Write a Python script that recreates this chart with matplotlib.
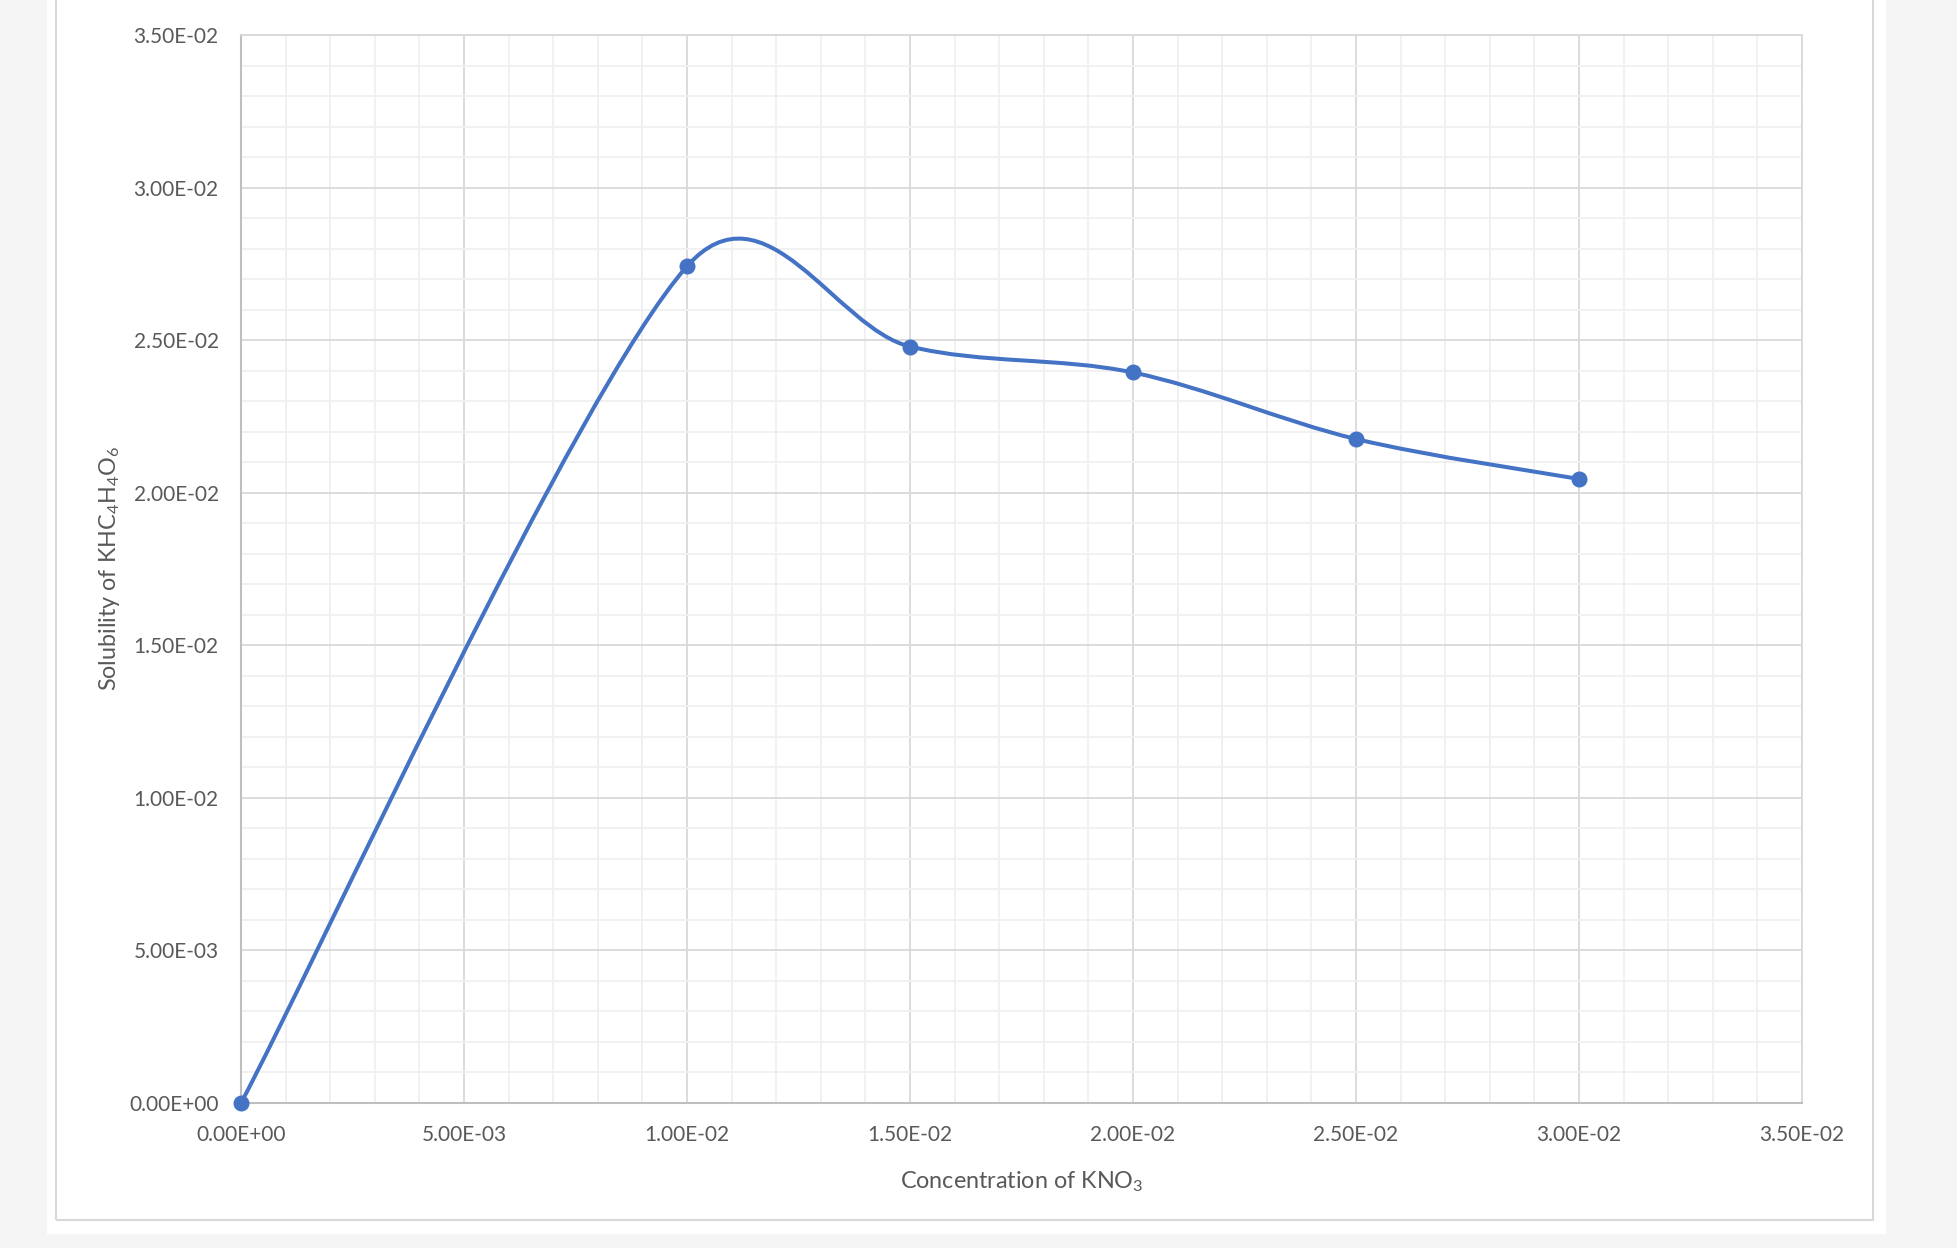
import numpy as np
import matplotlib
matplotlib.use("Agg")
import matplotlib.pyplot as plt
from matplotlib.path import Path
from matplotlib.patches import PathPatch, Rectangle
from matplotlib.ticker import MultipleLocator, FuncFormatter

# ---- data ----
conc_kno3 = [0.0, 0.010, 0.015, 0.020, 0.025, 0.030]
solubility = [0.0, 0.02742, 0.02479, 0.02394, 0.02176, 0.02045]
x_ticks = [0.0, 0.005, 0.010, 0.015, 0.020, 0.025, 0.030, 0.035]
y_ticks = [0.0, 0.005, 0.010, 0.015, 0.020, 0.025, 0.030, 0.035]
x_title = "Concentration of KNO$\\mathregular{_3}$"
y_title = "Solubility of KHC$\\mathregular{_4}$H$\\mathregular{_4}$O$\\mathregular{_6}$"

plt.rcParams['font.family'] = ['Lato', 'DejaVu Sans']
plt.rcParams['mathtext.fontset'] = 'custom'
plt.rcParams['mathtext.rm'] = 'Lato'
plt.rcParams['mathtext.it'] = 'Lato'
plt.rcParams['mathtext.bf'] = 'Lato'

W, H = 1958, 1248
fig = plt.figure(figsize=(W / 100, H / 100), dpi=100)
fig.patch.set_facecolor('#f5f5f5')

# white chart area and its border
fig.patches.append(Rectangle((47 / W, 1 - 1234 / H), (1886 - 47) / W, 1234 / H + 0.01,
                             transform=fig.transFigure, facecolor='white', edgecolor='none', zorder=-3))
fig.patches.append(Rectangle((56 / W, 1 - 1220 / H), (1873 - 56) / W, 1220 / H + 0.05,
                             transform=fig.transFigure, facecolor='none', edgecolor='#d9d9d9',
                             linewidth=1.5, zorder=-2))

ax = fig.add_axes([241 / W, 1 - 1103 / H, (1802 - 241) / W, (1103 - 35) / H])
ax.set_facecolor('white')
ax.set_xlim(0, 0.035)
ax.set_ylim(0, 0.035)
ax.set_xticks(x_ticks)
ax.set_yticks(y_ticks)
ax.xaxis.set_minor_locator(MultipleLocator(0.001))
ax.yaxis.set_minor_locator(MultipleLocator(0.001))
fmt = FuncFormatter(lambda v, p: "{:.2E}".format(v))
ax.xaxis.set_major_formatter(fmt)
ax.yaxis.set_major_formatter(fmt)
ax.grid(which='major', color='#d9d9d9', linewidth=1.3, zorder=0)
ax.grid(which='minor', color='#f0f0f0', linewidth=1.3, zorder=0)
ax.set_axisbelow(True)
ax.tick_params(which='both', length=0)
ax.tick_params(axis='x', pad=16, labelsize=15, labelcolor='#595959')
ax.tick_params(axis='y', pad=16, labelsize=15, labelcolor='#595959')
for s in ['top', 'right']:
    ax.spines[s].set_color('#d9d9d9')
    ax.spines[s].set_linewidth(1.3)
for s in ['left', 'bottom']:
    ax.spines[s].set_color('#bfbfbf')
    ax.spines[s].set_linewidth(1.5)

# Excel-style smoothed line: cubic Bezier segments computed in display space
fig.canvas.draw()
pts = ax.transData.transform(np.column_stack([conc_kno3, solubility]))
n = len(pts)
verts = [tuple(pts[0])]
codes = [Path.MOVETO]
f = 1.0 / 6.0
for i in range(n - 1):
    p0 = pts[i - 1] if i > 0 else pts[i]
    p1 = pts[i]
    p2 = pts[i + 1]
    p3 = pts[i + 2] if i + 2 < n else pts[i + 1]
    d02 = np.hypot(*(p2 - p0))
    d12 = np.hypot(*(p2 - p1))
    d13 = np.hypot(*(p3 - p1))
    f1 = f
    f2 = f
    if d02 * f > d12 / 2 and d02 > 0:
        f1 = d12 / (2 * d02)
    if d13 * f > d12 / 2 and d13 > 0:
        f2 = d12 / (2 * d13)
    c1 = p1 + (p2 - p0) * f1
    c2 = p2 - (p3 - p1) * f2
    verts += [tuple(c1), tuple(c2), tuple(p2)]
    codes += [Path.CURVE4] * 3
inv = ax.transData.inverted()
verts_data = inv.transform(np.array(verts))
path = Path(verts_data, codes)
ax.add_patch(PathPatch(path, facecolor='none', edgecolor='#4472c4', linewidth=2.9,
                       capstyle='round', joinstyle='round', zorder=3, clip_on=False))
ax.plot(conc_kno3, solubility, linestyle='none', marker='o', markersize=10.5,
        color='#4472c4', zorder=4, clip_on=False)

fig.text((241 + 1802) / 2 / W, 1 - 1182 / H, x_title, ha='center', va='center',
         fontsize=16.8, color='#595959')
fig.text(109 / W, 1 - 568 / H, y_title, ha='center', va='center', rotation=90,
         fontsize=16.8, color='#595959')

fig.savefig('out.png', dpi=100, facecolor=fig.get_facecolor())
